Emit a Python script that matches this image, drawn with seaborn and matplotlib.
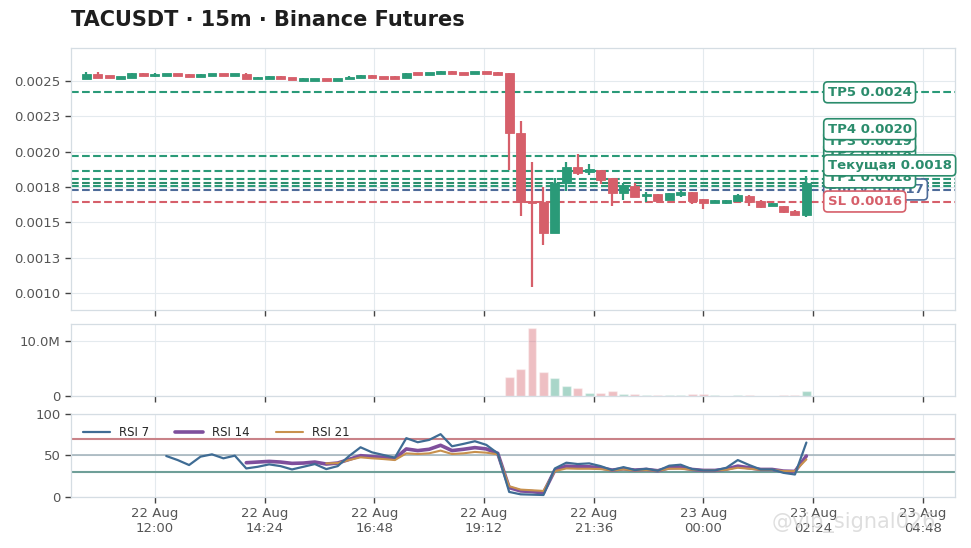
import numpy as np
import pandas as pd
import matplotlib
matplotlib.use("Agg")
import matplotlib.pyplot as plt
import matplotlib.dates as mdates
import matplotlib.transforms as mtransforms
from matplotlib.ticker import FuncFormatter
import seaborn as sns

# ---- data (15m candles, 22 Aug 10:30 -> 23 Aug 02:15) ----
times = pd.date_range("2025-08-22 10:30", periods=64, freq="15min")

opens = [0.00251, 0.00255, 0.00253, 0.002521, 0.00252, 0.002552, 0.00253, 0.002543,
         0.002546, 0.002542, 0.00253, 0.00254, 0.002546, 0.002536, 0.002549, 0.002517,
         0.002515, 0.002528, 0.002519, 0.002507, 0.00251, 0.002514, 0.002508, 0.00251,
         0.002527, 0.002537, 0.002526, 0.002525, 0.002522, 0.002555, 0.002543, 0.002553,
         0.002563, 0.002555, 0.002552, 0.00256, 0.00256, 0.002553, 0.002133, 0.001648,
         0.001642, 0.001428, 0.001775, 0.001888, 0.001861, 0.001869, 0.001813, 0.001708,
         0.00176, 0.00169, 0.0017, 0.001659, 0.001701, 0.001712, 0.001666, 0.001647,
         0.001635, 0.001654, 0.001689, 0.001654, 0.001621, 0.001617, 0.001584, 0.001556]
highs = [0.00256, 0.00256, 0.002535, 0.002525, 0.002555, 0.002556, 0.002552, 0.00255,
         0.002549, 0.002545, 0.002548, 0.00255, 0.00255, 0.002549, 0.002551, 0.002526,
         0.00253, 0.00253, 0.002521, 0.002516, 0.002515, 0.002515, 0.002512, 0.00253,
         0.002539, 0.002539, 0.002528, 0.002532, 0.002557, 0.002557, 0.002556, 0.002566,
         0.002565, 0.002557, 0.002562, 0.002562, 0.002562, 0.002555, 0.002215, 0.001927,
         0.001747, 0.001813, 0.001927, 0.001981, 0.001911, 0.001871, 0.001815, 0.001775,
         0.001782, 0.001713, 0.001702, 0.001707, 0.001729, 0.001714, 0.001668, 0.001662,
         0.001662, 0.001703, 0.001691, 0.001656, 0.001635, 0.001619, 0.001586, 0.001829]
lows = [0.00251, 0.00252, 0.002522, 0.002518, 0.00252, 0.00253, 0.002528, 0.00254,
        0.00254, 0.002528, 0.002526, 0.002538, 0.002533, 0.002534, 0.002513, 0.002514,
        0.002513, 0.002515, 0.002505, 0.002503, 0.002508, 0.002506, 0.002505, 0.002509,
        0.002524, 0.002524, 0.00252, 0.00252, 0.00252, 0.002542, 0.002541, 0.002551,
        0.002552, 0.002549, 0.00255, 0.002555, 0.00254, 0.001869, 0.001549, 0.001047,
        0.001344, 0.001428, 0.001724, 0.001837, 0.001836, 0.001771, 0.001614, 0.001659,
        0.00168, 0.001642, 0.001635, 0.001657, 0.001677, 0.001631, 0.001596, 0.00164,
        0.001633, 0.001652, 0.001614, 0.001605, 0.001618, 0.00157, 0.001554, 0.001537]
closes = [0.00255, 0.00252, 0.002525, 0.002523, 0.002552, 0.002532, 0.00255, 0.002547,
          0.002542, 0.002531, 0.00254, 0.002546, 0.002536, 0.002546, 0.002515, 0.002521,
          0.002528, 0.002517, 0.002507, 0.002512, 0.002512, 0.002507, 0.00251, 0.002528,
          0.002537, 0.002526, 0.002522, 0.002522, 0.002555, 0.002545, 0.002553, 0.002563,
          0.002554, 0.002551, 0.00256, 0.002557, 0.002542, 0.002133, 0.001642, 0.00164,
          0.001428, 0.001782, 0.001892, 0.001846, 0.001867, 0.0018, 0.001708, 0.001766,
          0.001682, 0.001698, 0.001654, 0.001705, 0.001708, 0.001654, 0.001635, 0.001653,
          0.001659, 0.001696, 0.001642, 0.001607, 0.001627, 0.001572, 0.001556, 0.001775]

# volume in millions
volumes = [0.05, 0.04, 0.02, 0.02, 0.04, 0.03, 0.03, 0.02, 0.02, 0.02, 0.02, 0.02,
           0.02, 0.02, 0.04, 0.02, 0.02, 0.02, 0.02, 0.02, 0.02, 0.02, 0.02, 0.03,
           0.02, 0.02, 0.02, 0.02, 0.04, 0.02, 0.02, 0.03, 0.02, 0.02, 0.02, 0.02,
           0.03, 3.5, 4.9, 12.4, 4.3, 3.3, 1.8, 1.4, 0.6, 0.6, 1.0, 0.4,
           0.4, 0.15, 0.15, 0.15, 0.12, 0.4, 0.35, 0.12, 0.05, 0.15, 0.15, 0.05,
           0.05, 0.2, 0.15, 0.85]

rsi7 = [np.nan] * 7 + [
    49.4, 44.5, 38.5, 48.6, 51.4, 46.6, 49.8, 34.4, 36.4, 39.3, 37.2, 33.2, 36.4, 39.7,
    33.6, 37.2, 49.4, 59.9, 53.8, 50.6, 47.4, 70.9, 66.0, 68.8, 75.7, 61.1, 64.0, 67.2,
    62.8, 52.6, 6.1, 3.2, 2.8, 2.4, 34.4, 41.3, 39.7, 40.5, 37.2, 32.4, 36.0, 32.4, 34.0,
    31.6, 37.7, 38.9, 33.6, 32.0, 32.0, 35.2, 44.5, 38.5, 33.2, 33.2, 29.1, 27.1, 65.6]
rsi14 = [np.nan] * 14 + [
    41.3, 42.1, 42.9, 42.1, 40.5, 40.9, 42.1, 39.7, 40.9, 45.3, 49.8, 48.6, 47.8, 46.2,
    57.9, 55.9, 57.5, 62.3, 55.9, 57.5, 59.5, 57.9, 52.6, 11.3, 7.3, 6.5, 4.9, 32.4, 37.2,
    36.4, 36.4, 35.2, 32.4, 34.0, 32.4, 33.2, 31.6, 35.2, 35.6, 33.2, 32.0, 32.0, 33.6,
    37.2, 35.2, 33.2, 33.2, 31.2, 30.8, 49.4]
rsi21 = [np.nan] * 21 + [
    40.5, 40.9, 44.5, 47.8, 46.6, 45.7, 44.5, 52.6, 51.8, 52.6, 55.9, 51.8, 52.6, 54.3,
    53.4, 51.4, 13.0, 8.9, 8.1, 7.3, 31.2, 34.4, 34.0, 34.0, 33.6, 32.0, 33.2, 32.0, 32.4,
    31.6, 34.0, 34.0, 32.8, 32.0, 32.0, 32.8, 35.2, 34.0, 32.8, 32.8, 31.2, 31.2, 45.3]

level_names = ["Entry", "SL", "TP1", "TP2", "TP3", "TP4", "TP5", "Текущая"]
level_prices = [0.00173, 0.001648, 0.00176, 0.00181, 0.001864, 0.001967, 0.002418, 0.001775]
level_kinds = ["entry", "sl", "tp", "tp", "tp", "tp", "tp", "cur"]

price_ticks = [0.0010, 0.00125, 0.0015, 0.00175, 0.0020, 0.00225, 0.0025]
price_tick_labels = ["0.0010", "0.0013", "0.0015", "0.0018", "0.0020", "0.0023", "0.0025"]

# ---- style ----
GREEN = "#2a9a78"
RED = "#d65f6a"
BLUE = "#4d6b99"
TXT = "#555555"
kind_color = {"entry": BLUE, "sl": RED, "tp": "#2b8c6c", "cur": "#2b8c6c"}

sns.set_theme(style="whitegrid", rc={
    "grid.color": "#e4eaee", "grid.linewidth": 0.8,
    "axes.edgecolor": "#d5dde3", "axes.linewidth": 0.9,
    "xtick.color": TXT, "ytick.color": TXT,
    "xtick.labelsize": 9.5, "ytick.labelsize": 9.5,
})
plt.rcParams["font.family"] = ["DejaVu Sans"]

df = pd.DataFrame({"time": times, "open": opens, "high": highs, "low": lows,
                   "close": closes, "vol": np.array(volumes) * 1e6,
                   "rsi7": rsi7, "rsi14": rsi14, "rsi21": rsi21})
up = df["close"] >= df["open"]
colors = np.where(up, GREEN, RED)
w = 0.78 / 96  # 15 minutes in days

fig = plt.figure(figsize=(9.71, 5.48), dpi=100)
ax1 = fig.add_axes([0.0731, 0.4343, 0.9104, 0.478])
ax2 = fig.add_axes([0.0731, 0.2774, 0.9104, 0.1314], sharex=ax1)
ax3 = fig.add_axes([0.0731, 0.0931, 0.9104, 0.1514], sharex=ax1)

# candles
ax1.vlines(df["time"], df["low"], df["high"], colors=colors, lw=1.6, zorder=2)
body = np.maximum((df["close"] - df["open"]).abs(), 0.00002)
mid = (df["open"] + df["close"]) / 2
ax1.bar(df["time"], body, bottom=mid - body / 2, width=w,
        color=colors, edgecolor=colors, lw=0.6, zorder=3)

lo, hi = df["low"].min(), df["high"].max()
pad = 0.108 * (hi - lo)
ax1.set_ylim(lo - pad, hi + pad)
ax1.set_yticks(price_ticks)
ax1.set_yticklabels(price_tick_labels)

# levels + stacked labels
for name, p, k in zip(level_names, level_prices, level_kinds):
    ax1.axhline(p, color=kind_color[k] if k != "tp" else GREEN, ls="--", lw=1.5, zorder=1)

span = ax1.get_ylim()[1] - ax1.get_ylim()[0]
gap = 0.046 * span
order = np.argsort(level_prices)
label_y = {}
prev = -np.inf
for idx in order:
    y = max(level_prices[idx], prev + gap)
    label_y[idx] = y
    prev = y

trans = mtransforms.blended_transform_factory(ax1.transAxes, ax1.transData)
for z, (name, p, k) in enumerate(zip(level_names, level_prices, level_kinds)):
    c = kind_color[k]
    ax1.text(0.856, label_y[z], f"{name} {p:.4f}", transform=trans, ha="left", va="center",
             fontsize=9.5, fontweight="bold", color=c, zorder=10 + z, clip_on=False,
             bbox=dict(boxstyle="round,pad=0.3", fc="white", ec=c, lw=1.2))

# volume
ax2.bar(df["time"], df["vol"], width=w, color=colors, alpha=0.4, zorder=2)
ax2.set_ylim(0, df["vol"].max() * 1.06)
ax2.set_yticks([0, 10e6])
ax2.yaxis.set_major_formatter(FuncFormatter(lambda v, _: "0" if v == 0 else f"{v / 1e6:.1f}M"))

# RSI
ax3.axhline(70, color="#c98288", lw=1.5, zorder=1)
ax3.axhline(50, color="#9eb0b8", lw=1.1, zorder=1)
ax3.axhline(30, color="#6f9f98", lw=1.5, zorder=1)
sns.lineplot(data=df, x="time", y="rsi7", ax=ax3, color="#3f6c94", lw=1.6,
             label="RSI 7", estimator=None, zorder=4)
sns.lineplot(data=df, x="time", y="rsi14", ax=ax3, color="#7e4f9c", lw=2.6,
             label="RSI 14", estimator=None, zorder=3)
sns.lineplot(data=df, x="time", y="rsi21", ax=ax3, color="#c8914d", lw=1.5,
             label="RSI 21", estimator=None, zorder=3)
ax3.set_ylim(0, 100)
ax3.set_yticks([0, 50, 100])
ax3.legend(loc="upper left", ncol=3, frameon=False, fontsize=8.5,
           handlelength=2.3, columnspacing=2.2, borderaxespad=0.6)

# x axis
xticks = pd.date_range("2025-08-22 12:00", periods=8, freq="144min")
ax1.set_xlim(times[0] - pd.Timedelta(minutes=20), times[-1] + pd.Timedelta(minutes=195))
for ax in (ax1, ax2, ax3):
    ax.set_xticks(xticks)
    ax.set_xlabel("")
    ax.set_ylabel("")
    ax.tick_params(axis="both", bottom=True, left=True, length=4, width=1, color="#444444",
                   labelcolor=TXT)
    for s in ax.spines.values():
        s.set_color("#d5dde3")
ax3.xaxis.set_major_formatter(mdates.DateFormatter("%d %b\n%H:%M"))
ax1.tick_params(axis="x", labelbottom=False)
ax2.tick_params(axis="x", labelbottom=False)

fig.text(0.073, 0.963, "TACUSDT · 15m · Binance Futures", fontsize=15, fontweight="bold",
         color="#1e1e1e", ha="left", va="center")
fig.text(0.795, 0.047, "@vip_signal026", fontsize=15, color="#d4d4d4", alpha=0.75,
         ha="left", va="center")

fig.savefig("out.png", dpi=100)
